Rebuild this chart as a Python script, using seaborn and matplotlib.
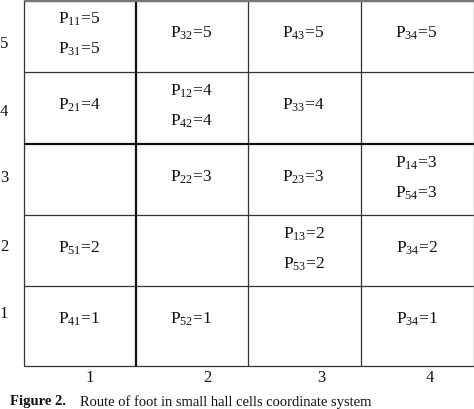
import matplotlib
matplotlib.use("Agg")
import matplotlib.pyplot as plt
import seaborn as sns

sns.set_theme(style="white")
plt.rcParams['font.family'] = ['Liberation Serif', 'DejaVu Serif']
plt.rcParams['mathtext.fontset'] = 'custom'
plt.rcParams['mathtext.rm'] = 'Liberation Serif'
plt.rcParams['mathtext.it'] = 'Liberation Serif'

col_lines = [24, 136, 248, 361, 474]
row_lines = [1, 73, 145, 216, 287, 367]
thick_cols = [136]
thick_rows = [145]
x_ticks = ["1", "2", "3", "4"]
x_tick_pos = [90, 207, 321, 430]
y_ticks = ["5", "4", "3", "2", "1"]
y_tick_pos = [44, 112, 178, 247, 314]

cells = [
    (0, 0, [("11", 5), ("31", 5)]), (0, 1, [("32", 5)]), (0, 2, [("43", 5)]), (0, 3, [("34", 5)]),
    (1, 0, [("21", 4)]), (1, 1, [("12", 4), ("42", 4)]), (1, 2, [("33", 4)]),
    (2, 1, [("22", 3)]), (2, 2, [("23", 3)]), (2, 3, [("14", 3), ("54", 3)]),
    (3, 0, [("51", 2)]), (3, 2, [("13", 2), ("53", 2)]), (3, 3, [("34", 2)]),
    (4, 0, [("41", 1)]), (4, 1, [("52", 1)]), (4, 3, [("34", 1)]),
]

fig = plt.figure(figsize=(4.74, 4.10), dpi=100)
ax = fig.add_axes([0, 0, 1, 1])
ax.set_xlim(0, 474)
ax.set_ylim(410, 0)
ax.axis("off")

for x in col_lines:
    thick = x in thick_cols
    ax.vlines(x, row_lines[0], row_lines[-1], color="#111111" if thick else "#333333", lw=1.6 if thick else 0.9)
for y in row_lines:
    if y == row_lines[0]:
        c, lw = "#777777", 2.5
    elif y in thick_rows:
        c, lw = "#111111", 1.6
    else:
        c, lw = "#333333", 0.9
    ax.hlines(y, col_lines[0], col_lines[-1], color=c, lw=lw)

for r, c, items in cells:
    cx = (col_lines[c] + col_lines[c + 1]) / 2 - 1
    top = row_lines[r]
    ys = [top + 32] if len(items) == 1 else [top + 18, top + 48]
    for (sub, val), yy in zip(items, ys):
        ax.text(cx, yy, rf"P$_{{{sub}}}$={val}", ha="center", va="center", fontsize=12.5, color="#111111")

for t, x in zip(x_ticks, x_tick_pos):
    ax.text(x, 378, t, ha="center", va="center", fontsize=12, color="#111111")
for t, y in zip(y_ticks, y_tick_pos):
    ax.text(4, y, t, ha="center", va="center", fontsize=12, color="#111111")

ax.text(10, 395, "Figure 2.", ha="left", va="top", fontsize=10.5, fontweight="bold", color="#111111")
ax.text(80, 395, "Route of foot in small hall cells coordinate system", ha="left", va="top",
        fontsize=10.5, color="#111111")

fig.savefig("out.png", dpi=100)
